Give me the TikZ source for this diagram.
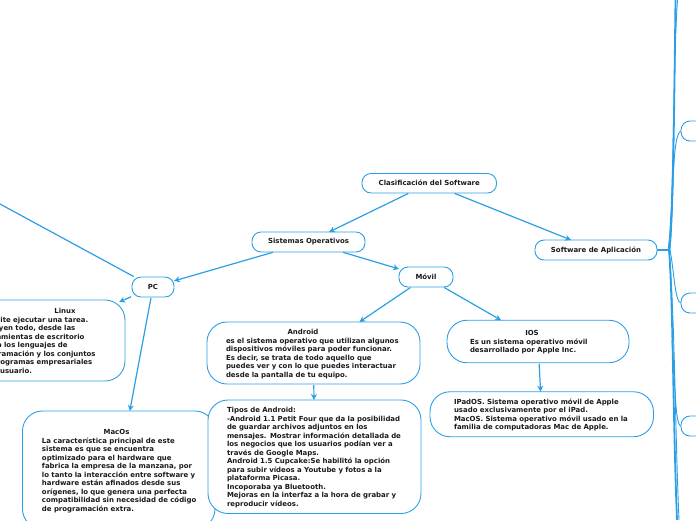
\documentclass[tikz,border=0pt]{standalone}
\usepackage{fontspec}
\setmainfont{DejaVu Sans}
\usetikzlibrary{arrows.meta}
\definecolor{bl}{HTML}{2B9FE6}
\definecolor{tx}{HTML}{1A1A1A}
\newcommand{\ttl}[2]{\makebox[#1pt][c]{#2}}
\newcommand{\tstr}{\rule{0pt}{7pt}}
\newcommand{\inset}[3]{\hspace*{#1pt}\parbox[t]{#2pt}{\raggedright\tstr #3}}
\tikzset{
  box/.style={draw=bl, line width=0.9pt, fill=white, text=tx, inner ysep=0pt, outer sep=0pt,
    font=\fontsize{6.95}{8.5}\selectfont\bfseries, align=left},
  small/.style={box, align=center, rounded corners=9pt, inner xsep=0pt},
  big/.style={box, rounded corners=20pt},
  conn/.style={draw=bl, line width=1.2pt, shorten <=1pt, -{Stealth[length=6pt,width=6pt]}},
  trunk/.style={draw=bl, line width=1.8pt},
  twig/.style={draw=bl, line width=0.9pt}
}
\begin{document}
\begin{tikzpicture}[x=1pt,y=-1pt]
\useasboundingbox (0,0) rectangle (696,520);
\clip (0,0) rectangle (696,520);
\fill[white] (0,0) rectangle (696,520);
\node[small, minimum width=134.5pt, minimum height=19.5pt] (clas) at (429.25,183.25) {Clasificación del Software};
\node[small, minimum width=113pt, minimum height=20pt] (sist) at (308.5,242) {Sistemas Operativos};
\node[small, minimum width=42pt, minimum height=20pt] (pc) at (153,287) {PC};
\node[small, minimum width=54pt, minimum height=20pt] (movil) at (426,277) {Móvil};
\node[small, minimum width=122pt, minimum height=20pt] (soft) at (596,250) {Software de Aplicación};
\node[small, minimum width=40pt, minimum height=20pt] (r1) at (701,131) {};
\node[small, minimum width=40pt, minimum height=20pt] (r2) at (701,303) {};
\node[small, minimum width=40pt, minimum height=20pt] (r3) at (701,426) {};
\node[big, inner xsep=20pt, text width=144pt, minimum height=81pt] (linux) at (33,340.5) {\inset{19}{125}{\ttl{170}{Linux}\\Permite ejecutar una tarea.\\Incluyen todo, desde las\\herramientas de escritorio\\hasta los lenguajes de\\programación y los conjuntos\\de programas empresariales\\para usuario.}};
\node[big, inner xsep=14pt, text width=164.5pt, minimum height=118pt] (macos) at (118.75,470) {\inset{5.5}{159}{\ttl{149}{MacOs}\\La característica principal de este\\sistema es que se encuentra\\optimizado para el hardware que\\fabrica la empresa de la manzana, por\\lo tanto la interacción entre software y\\hardware están afinados desde sus\\orígenes, lo que genera una perfecta\\compatibilidad sin necesidad de código\\de programación extra.}};
\node[big, inner xsep=19pt, text width=175pt, minimum height=62pt] (android) at (313.5,353) {\tstr\ttl{154}{Android}\\es el sistema operativo que utilizan algunos\\dispositivos móviles para poder funcionar.\\Es decir, se trata de todo aquello que\\puedes ver y con lo que puedes interactuar\\desde la pantalla de tu equipo.};
\node[big, inner xsep=19pt, text width=175pt, minimum height=113.5pt] (tipos) at (314.5,456.75) {\tstr Tipos de Android:\\-Android 1.1 Petit Four que da la posibilidad\\de guardar archivos adjuntos en los\\mensajes. Mostrar información detallada de\\los negocios que los usuarios podían ver a\\través de Google Maps.\\Android 1.5 Cupcake:Se habilitó la opción\\para subir vídeos a Youtube y fotos a la\\plataforma Picasa.\\Incoporaba ya Bluetooth.\\Mejoras en la interfaz a la hora de grabar y\\reproducir vídeos.};
\node[big, inner xsep=23pt, text width=136pt, minimum height=42.5pt] (ios) at (538,341.5) {\tstr\ttl{124}{IOS}\\Es un sistema operativo móvil\\desarrollado por Apple Inc.};
\node[big, inner xsep=24pt, text width=175.5pt, minimum height=45pt] (ipad) at (541.75,414.25) {\tstr IPadOS. Sistema operativo móvil de Apple\\usado exclusivamente por el iPad.\\MacOS. Sistema operativo móvil usado en la\\familia de computadoras Mac de Apple.};
\coordinate (offl) at (0,204);
\coordinate (tup) at (675.5,0);
\coordinate (tup2) at (677.5,0);
\coordinate (tdn) at (677,520);
\coordinate (tdn2) at (679,520);
\draw[conn] (clas) -- (sist);
\draw[conn] (clas) -- (soft);
\draw[conn] (sist) -- (pc);
\draw[conn] (sist) -- (movil);
\draw[conn, shorten >=-5pt] (pc) -- (linux);
\draw[conn] (pc) -- (macos);
\draw[draw=bl, line width=1.2pt, shorten <=1pt] (pc) -- (offl);
\draw[conn] (movil) -- (android);
\draw[conn] (movil) -- (ios);
\draw[conn] (android) -- (tipos);
\draw[conn] (ios) -- (ipad);
\draw[trunk] (soft.east) -- (669,250) .. controls (673,230) and (674,120) .. (tup);
\draw[twig] (soft.east) -- (668,250) .. controls (674,210) and (673,60) .. (tup2);
\draw[trunk] (soft.east) -- (669,250) .. controls (673,300) and (673,420) .. (tdn);
\draw[twig] (soft.east) -- (669,250) .. controls (675,320) and (675,430) .. (tdn2);
\draw[twig] (670,250) .. controls (674,190) and (672,135) .. (r1.west);
\draw[twig] (670,250) .. controls (674,270) and (675,303) .. (r2.west);
\draw[twig] (672,340) .. controls (675,380) and (675,426) .. (r3.west);
\end{tikzpicture}
\end{document}
